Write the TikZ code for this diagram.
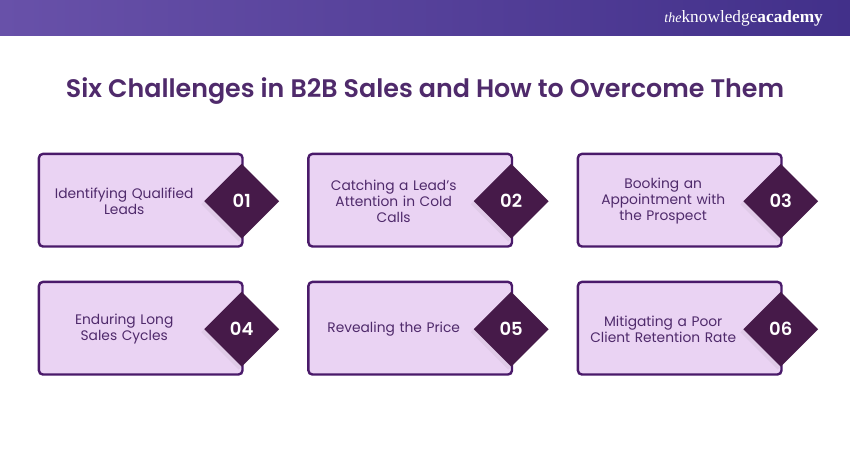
\documentclass[tikz,border=0pt]{standalone}
\usepackage{fontspec}
\setmainfont{Poppins}
\newfontfamily\titlefont{Poppins SemiBold}
\newfontfamily\logofont{Liberation Serif}
\usetikzlibrary{positioning}
\usetikzlibrary{shapes.geometric}
\usetikzlibrary{shadows}
\definecolor{barleft}{HTML}{6851A9}
\definecolor{barright}{HTML}{42308A}
\definecolor{titlecol}{HTML}{4F2A6B}
\definecolor{cardfill}{HTML}{EAD3F3}
\definecolor{cardline}{HTML}{4A1A6A}
\definecolor{diacol}{HTML}{461A49}
\definecolor{textcol}{HTML}{4F2A6B}

\begin{document}
\begin{tikzpicture}[x=1pt,y=1pt,
card/.style={draw=cardline,fill=cardfill,line width=2.4pt,rounded corners=4pt,minimum width=203.6pt,minimum height=92.6pt,outer sep=1.2pt},
cardtext/.style={text=textcol,font=\fontsize{13.8}{16}\selectfont,text width=150pt,align=center,xshift=-16.5pt,yshift=-1pt},
num/.style={diamond,aspect=1,fill=diacol,text=white,inner sep=0pt,minimum size=75pt,xshift=-2pt,yshift=-1pt,font=\titlefont\fontsize{18}{20}\selectfont,drop shadow={shadow xshift=-3pt,shadow yshift=-3pt,opacity=.1}}]
\useasboundingbox (0,0) rectangle (850,-450);
\node (topbar) [minimum width=850pt,minimum height=35.6pt,inner sep=0pt,anchor=north west,left color=barleft,right color=barright] at (0,0) {};
\node (logo) [text=white,font=\logofont\fontsize{17.3}{20}\selectfont,anchor=east,inner sep=0pt] at (823,-18) {\textit{\fontsize{14}{16}\selectfont the}knowledge\textbf{academy}};
\node (title) [text=titlecol,font=\titlefont\fontsize{25.35}{30}\selectfont,inner sep=0pt] at (425,-91) {Six Challenges in B2B Sales and How to Overcome Them};
\matrix (cards) [anchor=north west,row sep=33pt,column sep=63.5pt,inner sep=0pt] at (37.5,-152.5) {
\node (card1) [card,label={[cardtext,name=text1]center:Identifying Qualified\\Leads}] {};
&
\node (card2) [card,label={[cardtext,name=text2]center:Catching a Lead’s\\Attention in Cold\\Calls}] {};
&
\node (card3) [card,label={[cardtext,name=text3]center:Booking an\\Appointment with\\the Prospect}] {};
\\
\node (card4) [card,label={[cardtext,name=text4]center:Enduring Long\\Sales Cycles}] {};
&
\node (card5) [card,label={[cardtext,name=text5]center:Revealing the Price}] {};
&
\node (card6) [card,label={[cardtext,name=text6]center:Mitigating a Poor\\Client Retention Rate}] {};
\\
};
\node (num1) [num] at (card1.east) {01};
\node (num2) [num] at (card2.east) {02};
\node (num3) [num] at (card3.east) {03};
\node (num4) [num] at (card4.east) {04};
\node (num5) [num] at (card5.east) {05};
\node (num6) [num] at (card6.east) {06};
\end{tikzpicture}
\end{document}
